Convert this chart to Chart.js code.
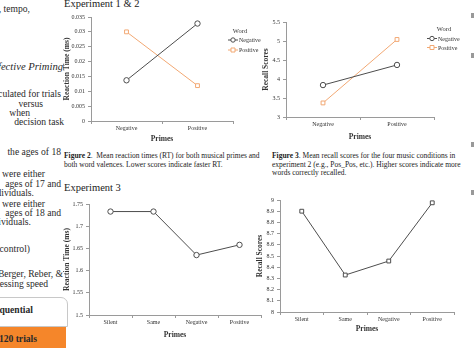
<!DOCTYPE html>
<html>
<head>
<meta charset="utf-8">
<script src="https://cdn.jsdelivr.net/npm/chart.js@4.4.1/dist/chart.umd.min.js"></script>
<style>
html, body { margin: 0; padding: 0; background: #fff; }
#page { position: relative; width: 474px; height: 348px; overflow: hidden;
        font-family: "Liberation Serif", "Times New Roman", serif; color: #222; }
.t { position: absolute; white-space: nowrap; }
.body { font-size: 9.6px; line-height: 10px; color: #2a2a2a; }
.cap { font-size: 7.5px; line-height: 7.5px; color: #222; }
canvas { position: absolute; }
.mark { position: absolute; left: 471px; width: 3px; height: 5px; background: #999; }
</style>
</head>
<body>
<div id="page">
  <!-- cut-off body text on the left -->
  <div class="t body" style="right:444px; top:4px;">rhythm, tempo,</div>
  <div class="t body" style="right:411px; top:62px; font-style:italic; font-size:10.6px;">Affective Priming</div>
  <div class="t body" style="right:413px; top:89px;">calculated for trials</div>
  <div class="t body" style="right:431px; top:99px;">versus</div>
  <div class="t body" style="right:444px; top:108px;">when</div>
  <div class="t body" style="right:410px; top:117px;">decision task</div>
  <div class="t body" style="right:413px; top:147px;">the ages of 18</div>
  <div class="t body" style="right:429px; top:169px;">were either</div>
  <div class="t body" style="right:413px; top:179px;">ages of 17 and</div>
  <div class="t body" style="right:440px; top:188px;">individuals.</div>
  <div class="t body" style="right:429px; top:199px;">were either</div>
  <div class="t body" style="right:413px; top:208px;">ages of 18 and</div>
  <div class="t body" style="right:443px; top:217px;">individuals.</div>
  <div class="t body" style="right:444px; top:244px;">(control)</div>
  <div class="t body" style="right:411px; top:269px;">Berger, Reber, &amp;</div>
  <div class="t body" style="right:426px; top:279px;">processing speed</div>
  <div style="position:absolute; left:-10px; top:297px; width:76px; height:28px; border:1px solid #c8c8c8; border-radius:0 7px 0 0; background:#fff;"></div>
  <div class="t body" style="right:441px; top:305px; font-weight:bold;">Sequential</div>
  <div style="position:absolute; left:0; top:327px; width:66px; height:21px; background:#f5862a;"></div>
  <div class="t body" style="right:437px; top:334px; font-weight:bold;">120 trials</div>

  <!-- headings and captions -->
  <div class="t" style="left:64px; top:-2px; font-size:10.5px; line-height:11px;">Experiment 1 &amp; 2</div>
  <div class="t" style="left:64px; top:182px; font-size:10.5px; line-height:11px;">Experiment 3</div>
  <div class="t cap" style="left:64px; top:152px;"><b>Figure 2</b>.&nbsp; Mean reaction times (RT) for both musical primes and</div>
  <div class="t cap" style="left:64px; top:160.5px;">both word valences. Lower scores indicate faster RT.</div>
  <div class="t cap" style="left:272px; top:152px;"><b>Figure 3</b>. Mean recall scores for the four music conditions in</div>
  <div class="t cap" style="left:272px; top:160.5px;">experiment 2 (e.g., Pos_Pos, etc.). Higher scores indicate more</div>
  <div class="t cap" style="left:272px; top:169px;">words correctly recalled.</div>

  <div class="mark" style="top:13px;"></div>
  <div class="mark" style="top:53px;"></div>
  <div class="mark" style="top:142px;"></div>
  <div class="mark" style="top:190px;"></div>

  <canvas id="c1" width="205" height="148" style="left:60px; top:0px;"></canvas>
  <canvas id="c2" width="210" height="145" style="left:258px; top:0px;"></canvas>
  <canvas id="c3" width="210" height="155" style="left:60px; top:190px;"></canvas>
  <canvas id="c4" width="224" height="150" style="left:250px; top:190px;"></canvas>
</div>
<script>
// Experiment 1 & 2
const primes12 = ['Negative', 'Positive'];
const rtNegWord = [0.0137, 0.0328];
const rtPosWord = [0.0300, 0.0119];
const recallNegWord = [3.84, 4.37];
const recallPosWord = [3.37, 5.04];
const rtTicks12 = [0, 0.005, 0.01, 0.015, 0.02, 0.025, 0.03, 0.035];
const recallTicks12 = [3, 3.5, 4, 4.5, 5, 5.5];

// Experiment 3
const primes3 = ['Silent', 'Same', 'Negative', 'Positive'];
const rtExp3 = [1.733, 1.733, 1.635, 1.658];
const recallExp3 = [8.90, 8.33, 8.455, 8.975];
const rtTicks3 = [1.5, 1.55, 1.6, 1.65, 1.7, 1.75];
const recallTicks3 = [8, 8.1, 8.2, 8.3, 8.4, 8.5, 8.6, 8.7, 8.8, 8.9, 9];

const DARK = '#4d4d4d';
const ORANGE = '#f2a873';
const AXIS = '#9a9a9a';
const TXT = '#333';
const SERIF = '"Liberation Serif", "Times New Roman", serif';
const TICK_FONT = { family: SERIF, size: 6 };
const TITLE_FONT = { family: SERIF, size: 7.5, weight: 'bold' };

// small "Word" legend drawn like the Excel one: -o-Negative
const wordLegend = {
  id: 'wordLegend',
  afterDraw(chart, args, opts) {
    if (!opts.title) return;
    const ctx = chart.ctx;
    ctx.save();
    ctx.textBaseline = 'middle';
    ctx.fillStyle = TXT;
    ctx.font = '6.5px ' + SERIF;
    ctx.textAlign = 'center';
    ctx.fillText(opts.title, opts.titleX, opts.titleY);
    ctx.textAlign = 'left';
    ctx.font = '6px ' + SERIF;
    chart.data.datasets.forEach((ds, i) => {
      const y = opts.rowY + i * opts.gap;
      ctx.strokeStyle = ds.borderColor;
      ctx.lineWidth = 1;
      ctx.beginPath();
      ctx.moveTo(opts.x, y);
      ctx.lineTo(opts.x + 10, y);
      ctx.stroke();
      ctx.fillStyle = '#fff';
      ctx.beginPath();
      if (ds.pointStyle === 'rect') ctx.rect(opts.x + 3, y - 2, 4, 4);
      else ctx.arc(opts.x + 5, y, 2.2, 0, Math.PI * 2);
      ctx.fill();
      ctx.stroke();
      ctx.fillStyle = TXT;
      ctx.fillText(ds.label, opts.x + 11, y + 0.5);
    });
    ctx.restore();
  }
};

function series(label, data, color, style) {
  return {
    label: label, data: data,
    borderColor: color, borderWidth: 1, tension: 0,
    pointStyle: style, pointRadius: 2.7,
    pointBackgroundColor: '#fff', pointBorderColor: color, pointBorderWidth: 1
  };
}

function makeChart(id, o) {
  new Chart(document.getElementById(id), {
    type: 'line',
    data: { labels: o.labels, datasets: o.datasets },
    options: {
      responsive: false,
      animation: false,
      devicePixelRatio: 1,
      layout: { padding: o.pad },
      plugins: {
        legend: { display: false },
        tooltip: { enabled: false },
        wordLegend: o.legend || {}
      },
      scales: {
        x: {
          type: 'category',
          offset: true,
          grid: { offset: true, drawOnChartArea: false, tickLength: 3, color: AXIS },
          border: { color: AXIS },
          ticks: { font: TICK_FONT, color: TXT, padding: 1, maxRotation: 0, autoSkip: false },
          title: { display: true, text: 'Primes', font: TITLE_FONT, color: TXT, padding: 0 },
          afterFit: s => { s.height = o.xH; }
        },
        y: {
          min: o.ticks[0],
          max: o.ticks[o.ticks.length - 1],
          afterBuildTicks: s => { s.ticks = o.ticks.map(v => ({ value: v })); },
          grid: { drawOnChartArea: false, tickLength: 3, color: AXIS },
          border: { color: AXIS },
          ticks: { font: TICK_FONT, color: TXT, padding: 3, callback: v => String(v) },
          title: { display: true, text: o.yTitle, font: TITLE_FONT, color: TXT, padding: 0 },
          afterFit: s => { s.width = o.yW; }
        }
      }
    },
    plugins: [wordLegend]
  });
}

makeChart('c1', {
  labels: primes12,
  datasets: [series('Negative', rtNegWord, DARK, 'circle'), series('Positive', rtPosWord, ORANGE, 'rect')],
  ticks: rtTicks12, yTitle: 'Reaction Time (ms)',
  pad: { left: 3, top: 17, right: 32, bottom: 4.5 }, yW: 28, xH: 22.5,
  legend: { title: 'Word', titleX: 180, titleY: 31, x: 168, rowY: 40, gap: 10 }
});

makeChart('c2', {
  labels: primes12,
  datasets: [series('Negative', recallNegWord, DARK, 'circle'), series('Positive', recallPosWord, ORANGE, 'rect')],
  ticks: recallTicks12, yTitle: 'Recall Scores',
  pad: { left: 3.5, top: 22, right: 34, bottom: 3.5 }, yW: 24.5, xH: 24.5,
  legend: { title: 'Word', titleX: 186, titleY: 29.5, x: 169, rowY: 38.5, gap: 9 }
});

makeChart('c3', {
  labels: primes3,
  datasets: [series('Reaction Time', rtExp3, DARK, 'circle')],
  ticks: rtTicks3, yTitle: 'Reaction Time (ms)',
  pad: { left: 3, top: 14, right: 9, bottom: 5.5 }, yW: 26, xH: 24.5
});

makeChart('c4', {
  labels: primes3,
  datasets: [series('Recall', recallExp3, DARK, 'rect')],
  ticks: recallTicks3, yTitle: 'Recall Scores',
  pad: { left: 5.5, top: 10, right: 20, bottom: 6.5 }, yW: 24.5, xH: 21.5
});
</script>
</body>
</html>
